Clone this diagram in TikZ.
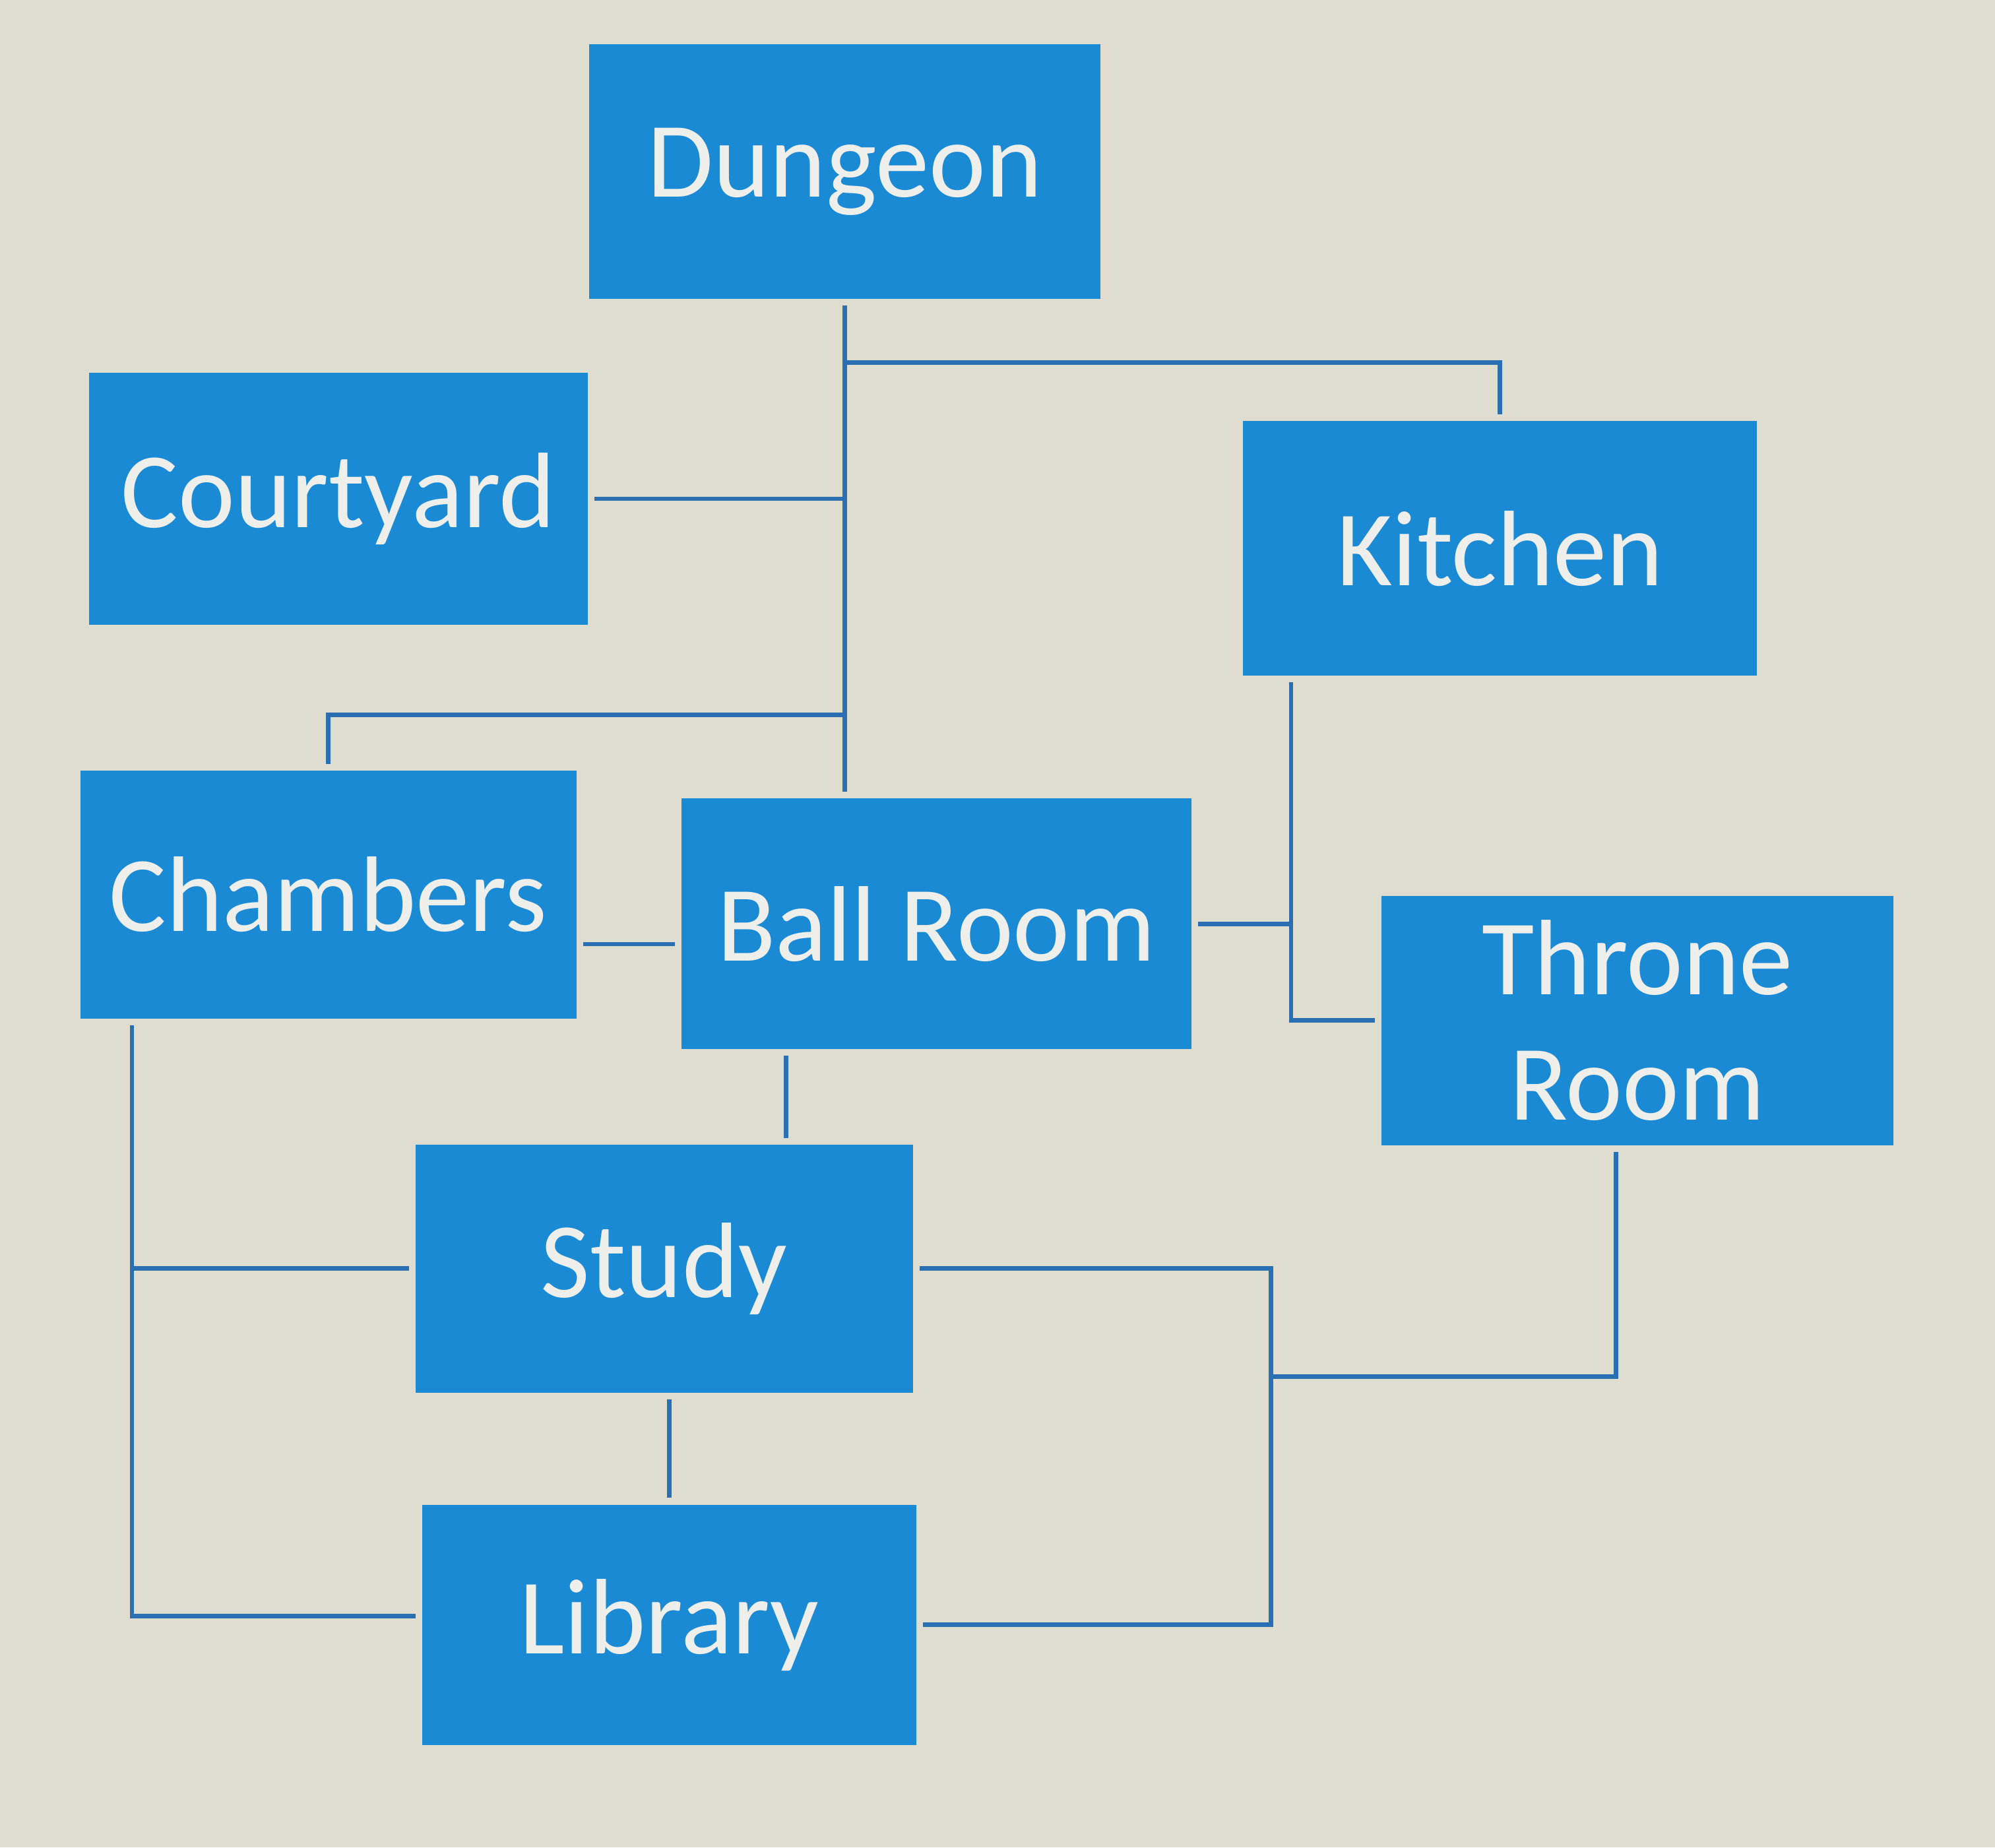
\documentclass[tikz,border=0pt]{standalone}
\usepackage{fontspec}
\setmainfont{Carlito}
\definecolor{wall}{HTML}{DFDCD0}
\definecolor{roomblue}{HTML}{1A8AD4}
\definecolor{linkblue}{HTML}{2A6FB2}
\definecolor{roomtext}{HTML}{EEEEEA}
\tikzset{
    room/.style={rectangle,fill=roomblue,text=roomtext,align=center,
        font=\fontsize{24}{28}\selectfont,outer sep=1.5pt},
    link/.style={linkblue,line width=1pt}
}
\begin{document}
\begin{tikzpicture}
        \fill[wall] (0,0) rectangle (15.68,14.52);
        \useasboundingbox (0,0) rectangle (15.68,14.52);
        \node[room,minimum width=4.02cm,minimum height=2.00cm] (dungeon) at (6.64,13.17) {Dungeon};
        \node[room,minimum width=3.92cm,minimum height=1.98cm] (courtyard) at (2.66,10.60) {Courtyard};
        \node[room,minimum width=4.04cm,minimum height=2.00cm] (kitchen) at (11.79,10.21) {Kitchen};
        \node[room,minimum width=3.90cm,minimum height=1.95cm] (chambers) at (2.58,7.49) {Chambers};
        \node[room,minimum width=4.01cm,minimum height=1.97cm] (ballroom) at (7.36,7.26) {Ball Room};
        \node[room,minimum width=4.02cm,minimum height=1.96cm] (throne) at (12.87,6.50) {Throne\\Room};
        \node[room,minimum width=3.91cm,minimum height=1.95cm] (study) at (5.22,4.55) {Study};
        \node[room,minimum width=3.88cm,minimum height=1.89cm] (library) at (5.26,1.75) {Library};
        \coordinate (j1) at (6.64,11.67);
        \coordinate (j2) at (6.64,8.90);
        \coordinate (k1) at ([xshift=0.43cm]kitchen.south west);
        \coordinate (c1) at ([xshift=0.46cm]chambers.south west);
        \coordinate (s1) at ([xshift=2.76cm]study.east);
        \coordinate (t1) at (9.98,3.70);
        \draw[link] (dungeon.south) -- (dungeon.south |- ballroom.north);
        \draw[link] (j1) -| (kitchen.north);
        \draw[link] (courtyard.east) -- (courtyard.east -| dungeon.south);
        \draw[link] (j2) -| (chambers.north);
        \draw[link] ([yshift=-0.39cm]chambers.east) -- ([yshift=-0.39cm]chambers.east -| ballroom.west);
        \draw[link] (k1) |- (throne.west);
        \draw[link] (ballroom.east) -- (ballroom.east -| k1);
        \draw[link] ([xshift=-1.18cm]ballroom.south) -- ([xshift=-1.18cm]ballroom.south |- study.north);
        \draw[link] (c1) |- ([yshift=0.07cm]library.west);
        \draw[link] (c1 |- study.west) -- (study.west);
        \draw[link] (study.east) -- (s1) |- (library.east);
        \draw[link] ([xshift=-0.17cm]throne.south) |- (t1);
        \draw[link] (library.north |- study.south) -- (library.north);
    \end{tikzpicture}
\end{document}
